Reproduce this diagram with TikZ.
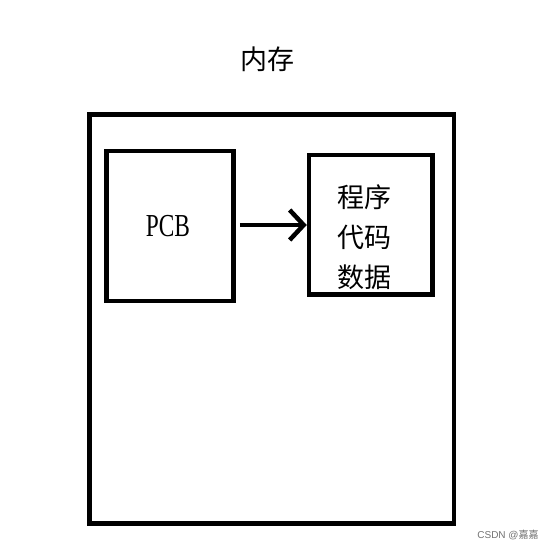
\documentclass[tikz,border=0pt]{standalone}
\usepackage{fontspec}
\setmainfont{Liberation Serif}
\newfontfamily\cjk{Noto Sans CJK SC}
\newfontfamily\wmfont{Liberation Sans}
\usetikzlibrary{arrows.meta}
\begin{document}
\begin{tikzpicture}[x=1pt,y=-1pt,
  boxstyle/.style={draw=black,line width=4.5pt,inner sep=0pt},
  cjktext/.style={font=\cjk\fontsize{27}{40}\selectfont,inner sep=0pt},
  arrowstyle/.style={line width=4.5pt,-{Straight Barb[length=14pt,width=30pt,line width=4.5pt]}}]
\useasboundingbox[fill=white] (0,0) rectangle (560,548);
\node[cjktext] (title) at (267,59) {内存};
\node[boxstyle,minimum width=364.5pt,minimum height=409pt] (mem) at (271.75,319) {};
\node[boxstyle,minimum width=127pt,minimum height=150pt] (pcb) at (170,226) {};
\node[font=\fontsize{32}{36}\selectfont,inner sep=0pt] (pcbtext) at (168,226) {\scalebox{0.73}[1]{PCB}};
\node[boxstyle,minimum width=123.5pt,minimum height=139.5pt] (prog) at (370.75,224.75) {};
\node[cjktext,align=center] (progtext) at (364,237) {程序\\代码\\数据};
\coordinate (astart) at ([xshift=4pt]pcb.east|-0,225);
\draw[arrowstyle] (astart) -- (prog.west|-astart);
\node[font=\wmfont\fontsize{10}{12}\selectfont,text=black!55,inner sep=0pt] (wm) at (508,535) {CSDN @{\cjk 嘉嘉}};
\end{tikzpicture}
\end{document}
